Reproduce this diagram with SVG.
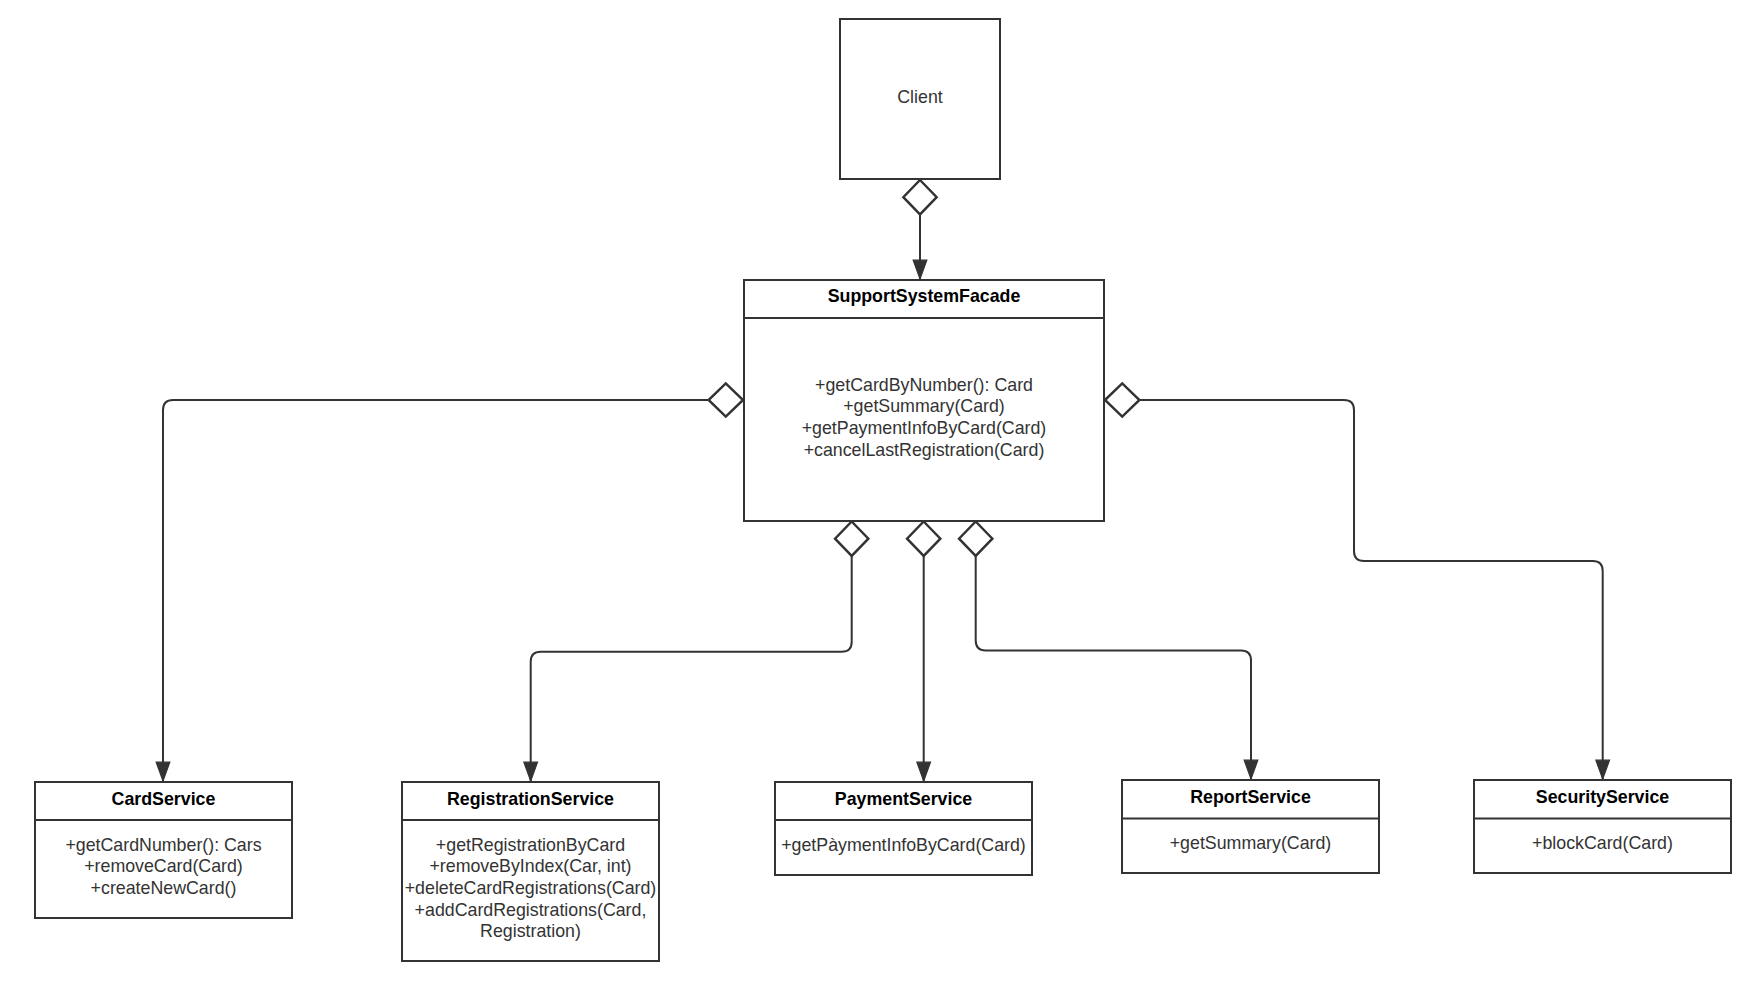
<svg xmlns="http://www.w3.org/2000/svg" width="1761" height="982" viewBox="0 0 1761 982">
<style>
.box{fill:#fff;stroke:#333;stroke-width:2}
.sep{stroke:#333;stroke-width:2}
.hd{font-family:"Liberation Sans",Arial,sans-serif;font-size:17.8px;font-weight:bold;fill:#000;text-anchor:middle}
.tx{font-family:"Liberation Sans",Arial,sans-serif;font-size:17.8px;fill:#333;text-anchor:middle}
.con{fill:none;stroke:#333;stroke-width:2;marker-start:url(#dia);marker-end:url(#arr)}
</style>
<defs>
<marker id="dia" markerUnits="userSpaceOnUse" markerWidth="40" markerHeight="40" viewBox="-2 -17 36 34" refX="0" refY="0" orient="auto" overflow="visible">
<path d="M0,0 L15.5,-15 L31,0 L15.5,15 Z" fill="#fff" stroke="#333" stroke-width="2.2" stroke-linejoin="miter"/>
</marker>
<marker id="arr" markerUnits="userSpaceOnUse" markerWidth="20" markerHeight="16" viewBox="0 -7 17 14" refX="16.5" refY="0" orient="auto" overflow="visible">
<path d="M0,-6 L16.5,0 L0,6 Z" fill="#333" stroke="#333" stroke-width="1"/>
</marker>
</defs>
<rect width="1761" height="982" fill="#fff"/>
<g id="connectors">
<path class="con" d="M920,180 V279"/>
<path class="con" d="M743,400 H173 Q163,400 163,410 V781"/>
<path class="con" d="M1105,400 H1344 Q1354,400 1354,410 V551 Q1354,561 1364,561 H1592.7 Q1602.7,561 1602.7,571 V779"/>
<path class="con" d="M851.7,521.5 V641.7 Q851.7,651.7 841.7,651.7 H540.7 Q530.7,651.7 530.7,661.7 V781"/>
<path class="con" d="M923.7,521.5 V781"/>
<path class="con" d="M975.7,521.5 V640.5 Q975.7,650.5 985.7,650.5 H1241 Q1251,650.5 1251,660.5 V779"/>
</g>
<g id="client">
<rect class="box" x="840" y="19" width="160" height="160"/>
<text class="tx" x="920" y="102.5">Client</text>
</g>
<g id="facade">
<rect class="box" x="744" y="280" width="360" height="241"/>
<line class="sep" x1="744" y1="318" x2="1104" y2="318"/>
<text class="hd" x="924" y="302.3">SupportSystemFacade</text>
<text class="tx" x="924" y="390.7">+getCardByNumber(): Card</text>
<text class="tx" x="924" y="412.3">+getSummary(Card)</text>
<text class="tx" x="924" y="434">+getPaymentInfoByCard(Card)</text>
<text class="tx" x="924" y="455.7">+cancelLastRegistration(Card)</text>
</g>
<g id="cardService">
<rect class="box" x="35" y="782" width="257" height="136"/>
<line class="sep" x1="35" y1="820" x2="292" y2="820"/>
<text class="hd" x="163.5" y="804.5">CardService</text>
<text class="tx" x="163.5" y="850.7">+getCardNumber(): Cars</text>
<text class="tx" x="163.5" y="872.3">+removeCard(Card)</text>
<text class="tx" x="163.5" y="894">+createNewCard()</text>
</g>
<g id="registrationService">
<rect class="box" x="402" y="782" width="257" height="179"/>
<line class="sep" x1="402" y1="820" x2="659" y2="820"/>
<text class="hd" x="530.5" y="804.5">RegistrationService</text>
<text class="tx" x="530.5" y="850.7">+getRegistrationByCard</text>
<text class="tx" x="530.5" y="872.3">+removeByIndex(Car, int)</text>
<text class="tx" x="530.5" y="894">+deleteCardRegistrations(Card)</text>
<text class="tx" x="530.5" y="915.7">+addCardRegistrations(Card,</text>
<text class="tx" x="530.5" y="937.3">Registration)</text>
</g>
<g id="paymentService">
<rect class="box" x="775" y="782" width="257" height="93"/>
<line class="sep" x1="775" y1="820" x2="1032" y2="820"/>
<text class="hd" x="903.5" y="804.5">PaymentService</text>
<text class="tx" x="903.5" y="850.7">+getPàymentInfoByCard(Card)</text>
</g>
<g id="reportService">
<rect class="box" x="1122" y="780" width="257" height="93"/>
<line class="sep" x1="1122" y1="818.5" x2="1379" y2="818.5"/>
<text class="hd" x="1250.5" y="802.5">ReportService</text>
<text class="tx" x="1250.5" y="849">+getSummary(Card)</text>
</g>
<g id="securityService">
<rect class="box" x="1474" y="780" width="257" height="93"/>
<line class="sep" x1="1474" y1="818.5" x2="1731" y2="818.5"/>
<text class="hd" x="1602.5" y="802.5">SecurityService</text>
<text class="tx" x="1602.5" y="849">+blockCard(Card)</text>
</g>
</svg>
